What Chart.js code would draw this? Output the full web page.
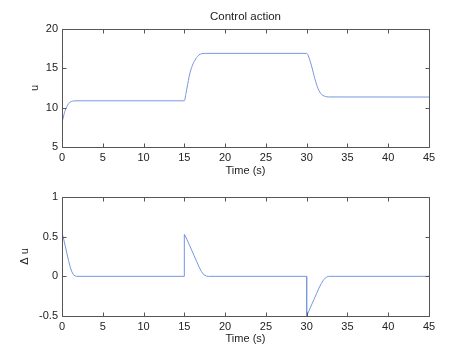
<!DOCTYPE html>
<html>
<head>
<meta charset="utf-8">
<script src="https://cdn.jsdelivr.net/npm/chart.js@4/dist/chart.umd.min.js"></script>
<style>
  html, body { margin: 0; padding: 0; background: #fff; }
  #wrap { position: relative; width: 474px; height: 355px; overflow: hidden; }
  canvas { position: absolute; left: 0; }
  #c1 { top: 0; }
  #c2 { top: 180px; }
</style>
</head>
<body>
<div id="wrap">
  <canvas id="c1" width="474" height="180"></canvas>
  <canvas id="c2" width="474" height="175"></canvas>
</div>
<script>
// ---- data ----
const chartTitle = 'Control action';
const xTitle = 'Time (s)';
const uLabel = 'u';
const duLabel = 'Δ u';

const timeTicks = [0, 5, 10, 15, 20, 25, 30, 35, 40, 45];
const uTicks = [5, 10, 15, 20];
const duTicks = [-0.5, 0, 0.5, 1];

const uTime = [0, 0.1, 0.2, 0.3, 0.4, 0.6, 0.8, 1.0, 1.3, 1.6,
  15, 15.2, 15.4, 15.6, 15.8, 16.0, 16.2, 16.4, 16.6, 16.8, 17.0, 17.3, 17.6,
  30, 30.2, 30.4, 30.6, 30.8, 31.0, 31.2, 31.4, 31.6, 31.8, 32.0, 32.3, 32.7, 45];
const uValues = [8.0, 8.5, 8.95, 9.35, 9.7, 10.15, 10.5, 10.7, 10.83, 10.87,
  10.87, 11.8, 12.9, 14.0, 14.8, 15.4, 15.85, 16.2, 16.5, 16.7, 16.82, 16.88, 16.9,
  16.9, 16.6, 16.0, 15.3, 14.5, 13.7, 13.0, 12.4, 12.0, 11.7, 11.55, 11.42, 11.36, 11.35];

const duTime = [0, 0.2, 0.4, 0.6, 0.8, 1.0, 1.2, 1.4, 1.6, 1.8,
  15, 15, 15.3, 15.6, 15.9, 16.2, 16.5, 16.8, 17.1, 17.4, 17.7, 18,
  30, 30, 30.3, 30.6, 30.9, 31.2, 31.5, 31.8, 32.1, 32.4, 32.7, 45];
const duValues = [0.55, 0.47, 0.38, 0.29, 0.2, 0.12, 0.06, 0.02, 0.005, 0,
  0, 0.53, 0.47, 0.40, 0.33, 0.26, 0.19, 0.12, 0.06, 0.02, 0.003, 0,
  0, -0.5, -0.43, -0.36, -0.29, -0.22, -0.15, -0.09, -0.04, -0.012, 0, 0];

// ---- styling ----
const FONT = { family: '"Liberation Sans", Arial, Helvetica, sans-serif', size: 11 };
const TEXT = '#222';
const LINE = '#7896e0';
const FRAME = '#555';

const frameTicks = {
  id: 'frameTicks',
  afterDatasetsDraw(chart) {
    const { ctx, chartArea: a, scales: { x, y } } = chart;
    ctx.save();
    ctx.strokeStyle = FRAME;
    ctx.lineWidth = 1;
    const L = Math.round(a.left) + 0.5, R = Math.round(a.right) + 0.5;
    const T = Math.round(a.top) + 0.5, B = Math.round(a.bottom) + 0.5;
    ctx.beginPath();
    ctx.rect(L, T, R - L, B - T);
    const len = 4;
    x.ticks.forEach(t => {
      const px = Math.round(x.getPixelForValue(t.value)) + 0.5;
      ctx.moveTo(px, B); ctx.lineTo(px, B - len);
      ctx.moveTo(px, T); ctx.lineTo(px, T + len);
    });
    y.ticks.forEach(t => {
      const py = Math.round(y.getPixelForValue(t.value)) + 0.5;
      ctx.moveTo(L, py); ctx.lineTo(L + len, py);
      ctx.moveTo(R, py); ctx.lineTo(R - len, py);
    });
    ctx.stroke();
    ctx.restore();
  }
};

const titlePlugin = {
  id: 'topTitle',
  afterDraw(chart) {
    const { ctx, chartArea: a } = chart;
    ctx.save();
    ctx.fillStyle = TEXT;
    ctx.font = '11.5px ' + FONT.family;
    ctx.textAlign = 'center';
    ctx.textBaseline = 'middle';
    ctx.fillText(chartTitle, (a.left + a.right) / 2, 17);
    ctx.restore();
  }
};

function toPoints(xs, ys) { return xs.map((v, i) => ({ x: v, y: ys[i] })); }

function makeChart(canvas, cfg) {
  return new Chart(canvas, {
    type: 'line',
    data: {
      datasets: [{
        data: toPoints(cfg.xs, cfg.ys),
        borderColor: LINE,
        borderWidth: 1,
        pointRadius: 0,
        fill: false,
        tension: 0,
        cubicInterpolationMode: cfg.mono ? 'monotone' : 'default'
      }]
    },
    options: {
      responsive: false,
      animation: false,
      devicePixelRatio: 1,
      layout: { padding: { left: 0, right: 45, top: cfg.padTop, bottom: cfg.padBottom } },
      plugins: { legend: { display: false }, tooltip: { enabled: false }, title: { display: false } },
      scales: {
        x: {
          type: 'linear', min: 0, max: 45,
          afterBuildTicks: s => { s.ticks = timeTicks.map(v => ({ value: v })); },
          afterFit: s => { s.height = cfg.xHeight; },
          grid: { display: false, drawTicks: false },
          border: { display: false },
          ticks: { color: TEXT, font: FONT, padding: 4, maxRotation: 0, autoSkip: false, callback: v => String(v) },
          title: { display: true, text: xTitle, color: TEXT, font: FONT, padding: 0 }
        },
        y: {
          type: 'linear', min: cfg.yMin, max: cfg.yMax,
          afterBuildTicks: s => { s.ticks = cfg.yTicks.map(v => ({ value: v })); },
          afterFit: s => { s.width = 62; },
          grid: { display: false, drawTicks: false },
          border: { display: false },
          ticks: { color: TEXT, font: FONT, padding: 4, callback: v => String(v) },
          title: { display: true, text: cfg.yLabel, color: TEXT, font: FONT, padding: { top: cfg.yTitlePad, bottom: 0 } }
        }
      }
    },
    plugins: cfg.title ? [frameTicks, titlePlugin] : [frameTicks]
  });
}

makeChart(document.getElementById('c1'), {
  xs: uTime, ys: uValues, mono: true, yMin: 5, yMax: 20, yTicks: uTicks, yLabel: uLabel,
  padTop: 29, padBottom: 2, xHeight: 31, yTitlePad: 28, title: true
});
makeChart(document.getElementById('c2'), {
  xs: duTime, ys: duValues, mono: false, yMin: -0.5, yMax: 1, yTicks: duTicks, yLabel: duLabel,
  padTop: 17, padBottom: 9, xHeight: 30, yTitlePad: 18, title: false
});
</script>
</body>
</html>
